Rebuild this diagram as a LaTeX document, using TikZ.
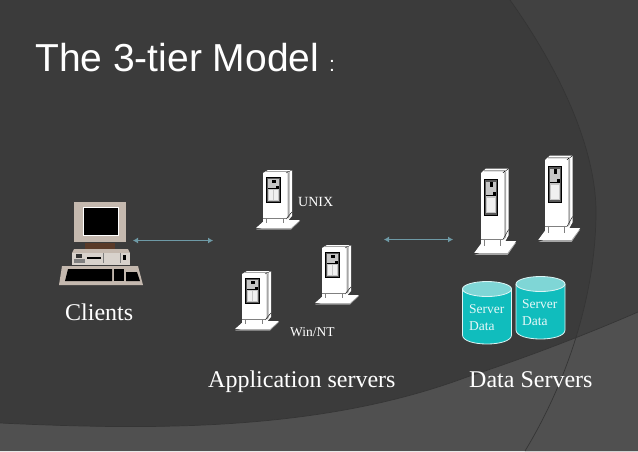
\documentclass[tikz,border=0pt]{standalone}
\usepackage{fontspec}
\setmainfont{Liberation Serif}
\newfontfamily\titlefont{Liberation Sans}
\usetikzlibrary{arrows.meta, positioning, calc}

\definecolor{slatebg}{HTML}{3B3B3B}
\definecolor{slatemid}{HTML}{414141}
\definecolor{slatelow}{HTML}{505050}
\definecolor{slateedge}{HTML}{353535}
\definecolor{linkcol}{HTML}{6E9AA6}
\definecolor{drumcol}{HTML}{10BDBD}
\definecolor{drumtop}{HTML}{7FD6D6}
\definecolor{crtbeige}{HTML}{C4B8AE}
\definecolor{crtbrown}{HTML}{5A3A28}
\definecolor{crtbase}{HTML}{D8D2CC}

\tikzset{
  lbl/.style={text=white, inner sep=0pt, font=\fontsize{#1}{#1}\selectfont},
  lbl/.default=11,
  drumtext/.style={text=white!90!drumcol, inner sep=0pt, font=\fontsize{13.5}{17}\selectfont, align=left},
  link/.style={linkcol, line width=1.6pt, {Latex[length=5pt,width=6pt]}-{Latex[length=5pt,width=6pt]}},
  % one tower, origin at the top left of its front face
  pics/tower/.style={code={
    \fill[gray!70] (-7,56.5) -- (28,56.5) -- (37,48) -- (30,48) -- cycle;
    \fill[white] (-7,55) -- (2,47) -- (37,47) -- (28,55) -- cycle;
    \fill[white] (0,0) -- (5,-3) -- (29,-3) -- (29,43) -- (23,50) -- (23,0) -- cycle;
    \fill[gray!70] (24.5,0) -- (26.5,-1) -- (26.5,44) -- (24.5,46) -- cycle;
    \draw[black, line width=.4pt] (23,0) -- (29,-3) (23,46) -- (29,39) (3,-1.5) -- (25,-1.5);
    \fill[white] (0,0) rectangle (23,50);
    \draw[gray, line width=.5pt] (0,45.5) -- (23,45.5) (3,45.5) -- (3,50) (20,45.5) -- (20,50);
    \fill[gray!70!black] (3.5,4.5) rectangle (17.5,29);
    \fill[gray!45] (5,6) rectangle (16,27.5);
    \fill[black] (9,6.5) rectangle (12.5,9.5);
    \fill[black] (12.5,13) rectangle (16,15.5);
    \draw[black, line width=.4pt] (5,15.5) -- (16,15.5);
    \fill[gray!12] (6,17) rectangle (10,27);
    \fill[gray!12] (11,17) rectangle (15,27);
    \draw[black, line width=.4pt] (3.5,4.5) rectangle (17.5,29);
  }},
  % one drum, origin at the centre of its top
  pics/drum/.style={code={
    \fill[drumcol] (-24.5,0) -- (-24.5,46) .. controls (-24.5,58) and (24.5,58) .. (24.5,46) -- (24.5,0) -- cycle;
    \fill[drumtop] (0,0) ellipse (24.5 and 7.5);
    \draw[white!85!drumcol, line width=.8pt] (-24.5,0) -- (-24.5,46) .. controls (-24.5,58) and (24.5,58) .. (24.5,46) -- (24.5,0);
    \draw[white!85!drumcol, line width=.8pt] (0,0) ellipse (24.5 and 7.5);
  }},
}

\begin{document}
\begin{tikzpicture}[x=1pt, y=-1pt]
    \useasboundingbox (0,0) rectangle (638,451);

    % Background and its sweeps
    \fill[slatebg] (0,0) rectangle (638,451);
    \fill[slatemid] (510,0) .. controls (560,70) and (597,150) .. (596,215)
        .. controls (595,300) and (565,385) .. (525,451) -- (638,451) -- (638,0) -- cycle;
    \fill[slatelow] (0,423) .. controls (150,430) and (320,432) .. (467,377)
        .. controls (525,358) and (585,335) .. (638,312) -- (638,451) -- (0,451) -- cycle;
    \draw[slateedge, line width=.7pt] (510,0) .. controls (560,70) and (597,150) .. (596,215)
        .. controls (595,300) and (565,385) .. (525,451);
    \draw[slateedge, line width=.7pt] (0,423) .. controls (150,430) and (320,432) .. (467,377)
        .. controls (525,358) and (585,335) .. (638,312);

    % Title
    \node[lbl=39, anchor=base west, font=\titlefont\fontsize{39}{39}\selectfont] (title) at (35,71) {The 3-tier Model};
    \node[lbl=21, anchor=base west, font=\titlefont\fontsize{21}{21}\selectfont] (colon) at (329,71) {:};

    % Client computer
    \fill[crtbeige] (74,202) rectangle (126,242);
    \fill[white] (83,207) rectangle (119,236);
    \fill[black] (84,208) rectangle (118,235);
    \fill[crtbrown] (85,243) rectangle (115,249);
    \fill[crtbeige] (74,249) -- (128,249) -- (130,253) -- (72,253) -- cycle;
    \fill[crtbase] (72,253) rectangle (130,265);
    \fill[black!80] (76,254) rectangle (82,258);
    \fill[black] (87,256.5) rectangle (101,258.5);
    \fill[gray] (74,259) rectangle (85,263);
    \draw[gray, line width=.4pt] (103,253) -- (103,263) (120,253) -- (120,263);
    \fill[black] (123,255) rectangle (126,260);
    \fill[crtbeige] (62,266) -- (138,266) -- (143,285) -- (59,285) -- cycle;
    \fill[black] (68,269) -- (112,269) -- (112,281) -- (65,281) -- cycle;
    \fill[black] (114,269) -- (124,269) -- (124,281) -- (114,281) -- cycle;
    \fill[black] (126,272) -- (137,272) -- (140,281) -- (126,281) -- cycle;
    \node[lbl=24, anchor=base west] (clients) at (65,320) {Clients};

    % Application servers
    \pic at (263,173) {tower};
    \pic at (322,248) {tower};
    \pic at (242,274) {tower};
    \node[lbl=14, anchor=base west] (unix) at (298,206) {UNIX};
    \node[lbl=13.5, anchor=base west] (winnt) at (290,336) {Win/NT};
    \node[lbl=24, anchor=base west] (appservers) at (208,387) {Application servers};

    % Data servers
    \pic[xscale=.95, yscale=1.45] at (481,173) {tower};
    \pic[xscale=.95, yscale=1.45] at (545,160) {tower};
    \pic at (540.5,284) {drum};
    \pic at (487,289) {drum};
    \node[drumtext, anchor=north west] (datafront) at (469,304) {Server\\Data};
    \node[drumtext, anchor=north west] (databack) at (522,299) {Server\\Data};
    \node[lbl=24, anchor=base west] (dataservers) at (469,387) {Data Servers};

    % Links between the tiers
    \coordinate (clientend) at (133,240.5);
    \coordinate (appleft) at (213,240.5);
    \coordinate (appright) at (384,239.5);
    \coordinate (dataend) at (453,239.5);
    \draw[link] (clientend) -- (appleft);
    \draw[link] (appright) -- (dataend);
\end{tikzpicture}
\end{document}
